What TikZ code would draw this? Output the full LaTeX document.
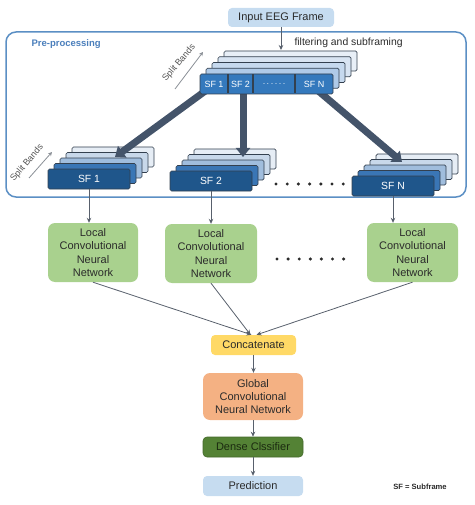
\documentclass[tikz,border=0pt]{standalone}
\usepackage{fontspec}
\setmainfont{Liberation Sans}
\usetikzlibrary{arrows.meta,calc}
\definecolor{txt}{HTML}{2B2B2B}
\definecolor{inblue}{HTML}{C6DCF0}
\definecolor{framecol}{HTML}{5B8FC4}
\definecolor{pretxt}{HTML}{4A7EBB}
\definecolor{topfront}{HTML}{3479BD}
\definecolor{botfront}{HTML}{1F568B}
\definecolor{layline}{HTML}{33404F}
\definecolor{thickcol}{HTML}{44546A}
\definecolor{thincol}{HTML}{58606C}
\definecolor{lcnn}{HTML}{A9D18E}
\definecolor{concat}{HTML}{FFD966}
\definecolor{global}{HTML}{F4B183}
\definecolor{dense}{HTML}{548235}
\definecolor{densetxt}{HTML}{1B2A10}
\definecolor{tA}{HTML}{AFCAE8}
\definecolor{tB}{HTML}{C6D9EE}
\definecolor{tC}{HTML}{D8E4F2}
\definecolor{tD}{HTML}{E8EFF7}
\definecolor{bA}{HTML}{3A76B5}
\definecolor{bB}{HTML}{A0BDDD}
\definecolor{bC}{HTML}{C8D8EA}
\definecolor{bD}{HTML}{E6EDF5}
\definecolor{splitcol}{HTML}{8A8F96}
\begin{document}
\begin{tikzpicture}[x=1pt,y=-1pt,
  every node/.style={text=txt},
  fnt/.style={font=\fontsize{11}{13.3}\selectfont},
  box/.style={fnt,rounded corners=4pt,inner sep=0pt,align=center},
  layer/.style={draw=layline,line width=0.7pt,rounded corners=1.5pt},
  frontbar/.style={layer,inner sep=0pt,text=white},
  thick/.style={draw=thickcol,line width=7pt,-{Triangle[width=14pt,length=9pt]}},
  thin/.style={draw=thincol,line width=0.8pt,-{Stealth[length=5pt,width=4.5pt]}},
  splitarrow/.style={draw=splitcol,line width=0.8pt,-{Stealth[length=4pt,width=4pt]}},
  splittxt/.style={text=txt!80,font=\fontsize{9}{10}\selectfont}
]
\useasboundingbox (0,0) rectangle (474,505);

% container
\draw[framecol,line width=1.5pt,rounded corners=10pt] (6,32) rectangle (466,197);
\node[anchor=west,text=pretxt,font=\fontsize{9.5}{11}\bfseries\selectfont] (pre) at (28,44) {Pre-processing};

% input
\node[box,fill=inblue,minimum width=106pt,minimum height=19pt] (input) at (281,17.5) {Input EEG Frame};
\coordinate (inend) at (281,50);
\draw[thin] (input.south) -- (inend);
\node[anchor=west,fnt,font=\fontsize{10.4}{12}\selectfont] (filt) at (291,43) {filtering and subframing};

% bottom stacks (back layers)
\foreach \x/\y in {48/169,170/171,352/176}{
  \foreach \k/\c in {4/bD,3/bC,2/bB,1/bA}{
    \draw[layer,fill=\c,shift={(6*\k,-5.5*\k)}] (\x,\y) rectangle ++(82,20);
  }
}
\node[frontbar,fill=botfront,minimum width=82pt,minimum height=20pt,font=\fontsize{10.4}{12}\selectfont] (sf1) at (89,179) {SF 1};
\node[frontbar,fill=botfront,minimum width=82pt,minimum height=20pt,font=\fontsize{10.4}{12}\selectfont] (sf2) at (211,181) {SF 2};
\node[frontbar,fill=botfront,minimum width=82pt,minimum height=20pt,font=\fontsize{10.4}{12}\selectfont] (sfn) at (393,186) {SF N};

% dots between stacks
\foreach \i in {0,...,6} \fill[txt] (276+11.2*\i,184) circle (1.7pt);

% thick arrows
\coordinate (a1s) at (208,89);
\coordinate (a1e) at (115,157);
\coordinate (a2s) at (243,90);
\coordinate (a2e) at (243,157);
\coordinate (a3s) at (316,89);
\coordinate (a3e) at (402,162);
\draw[thick] (a1s) -- (a1e);
\draw[thick] (a2s) -- (a2e);
\draw[thick] (a3s) -- (a3e);

% top stack
\foreach \k/\c in {4/tD,3/tC,2/tB,1/tA}{
  \draw[layer,fill=\c,shift={(6*\k,-5.75*\k)}] (200,74) rectangle ++(133,20);
}
\node[frontbar,fill=topfront,minimum width=133pt,minimum height=20pt] (topbar) at (266.5,84) {};
\foreach \xx in {228,253,295} \draw[layline,line width=1.2pt] (\xx,74.5) -- (\xx,93.5);
\node[text=white,font=\fontsize{9}{10}\selectfont] (t1) at (214,84) {SF 1};
\node[text=white,font=\fontsize{9}{10}\selectfont] (t2) at (240.5,84) {SF 2};
\node[text=white!85!topfront,font=\fontsize{9}{10}\selectfont] (t3) at (274,84) {.\,.\,.\,.\,.\,.};
\node[text=white,font=\fontsize{9}{10}\selectfont] (tn) at (314,84) {SF N};

% split bands
\coordinate (sb1s) at (175,89);
\coordinate (sb1e) at (203,52);
\draw[splitarrow] (sb1s) -- (sb1e);
\node[splittxt,rotate=50] (sbt1) at (179,63) {Split Bands};
\coordinate (sb2s) at (29,178);
\coordinate (sb2e) at (52,152);
\draw[splitarrow] (sb2s) -- (sb2e);
\node[splittxt,rotate=50] (sbt2) at (27,163) {Split Bands};

% local CNNs
\node[box,fill=lcnn,rounded corners=7pt,minimum width=90pt,minimum height=59pt] (l1) at (93,252.5) {Local\\Convolutional\\Neural\\Network};
\node[box,fill=lcnn,rounded corners=7pt,minimum width=92pt,minimum height=59pt] (l2) at (211,253.5) {Local\\Convolutional\\Neural\\Network};
\node[box,fill=lcnn,rounded corners=7pt,minimum width=91pt,minimum height=59pt] (ln) at (412.5,252.5) {Local\\Convolutional\\Neural\\Network};
\foreach \i in {0,...,6} \fill[txt] (277+11.1*\i,259) circle (1.7pt);

\draw[thin] (sf1.south) -- (sf1.south |- l1.north);
\draw[thin] (sf2.south) -- (sf2.south |- l2.north);
\draw[thin] (sfn.south) -- (sfn.south |- ln.north);

% concatenate
\node[box,fill=concat,minimum width=85pt,minimum height=20pt] (cc) at (253.5,345) {Concatenate};
\draw[thin] (l1.south) -- ([xshift=-2pt]cc.north);
\draw[thin] (l2.south) -- ([xshift=-3pt]cc.north);
\draw[thin] (ln.south) -- ([xshift=3pt]cc.north);

% global
\node[box,fill=global,rounded corners=7pt,minimum width=100pt,minimum height=47pt] (gc) at (253,396.5) {Global\\Convolutional\\Neural Network};
\draw[thin] (cc.south) -- (cc.south |- gc.north);

% dense
\node[box,fill=dense,draw=dense!80!black,line width=0.6pt,text=densetxt,minimum width=100pt,minimum height=20pt] (dc) at (253,447) {Dense Clssifier};
\draw[thin] (gc.south) -- (gc.south |- dc.north);

% prediction
\node[box,fill=inblue,minimum width=100pt,minimum height=20pt] (pred) at (253,486) {Prediction};
\draw[thin] (dc.south) -- (dc.south |- pred.north);

% legend
\node[font=\fontsize{7.6}{9}\bfseries\selectfont] (leg) at (420,487) {SF = Subframe};
\end{tikzpicture}
\end{document}
